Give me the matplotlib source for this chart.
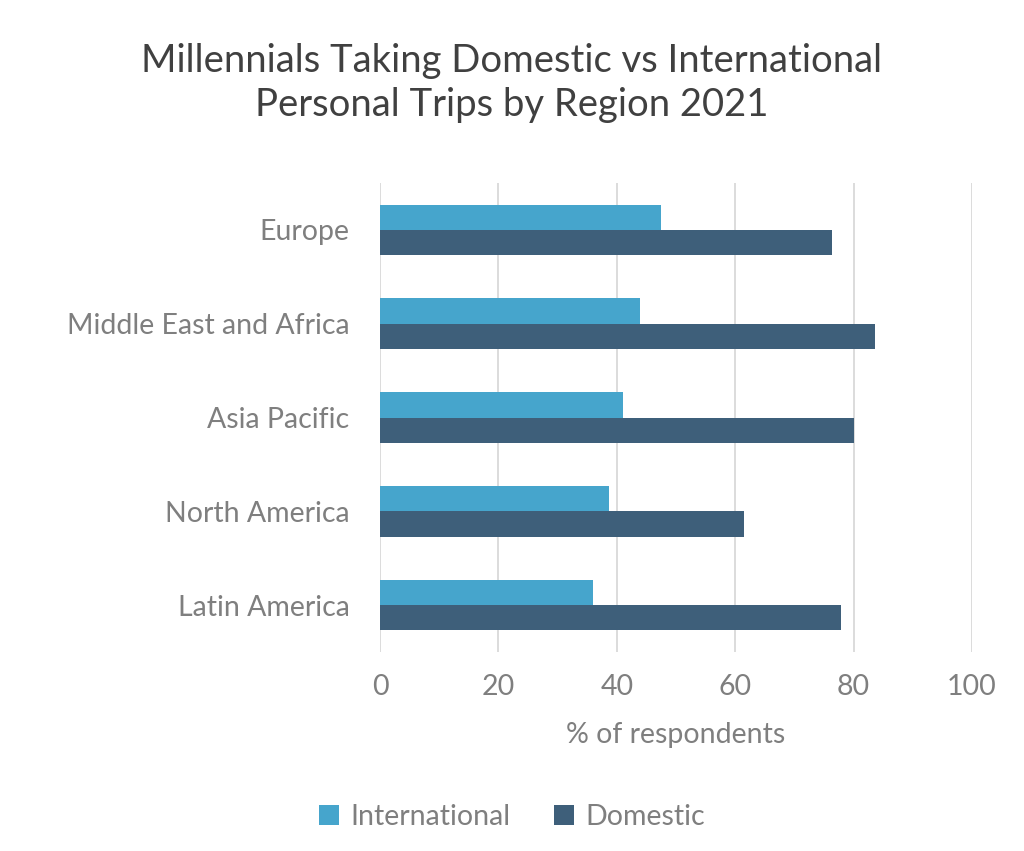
import matplotlib
matplotlib.use("Agg")
import matplotlib.pyplot as plt
import numpy as np

plt.rcParams['font.family'] = ['Lato', 'DejaVu Sans']

regions = ["Europe", "Middle East and Africa", "Asia Pacific", "North America", "Latin America"]
international = [47.5, 44.0, 41.1, 38.6, 36.0]
domestic = [76.3, 83.6, 80.0, 61.5, 77.9]
xticks = [0, 20, 40, 60, 80, 100]

fig = plt.figure(figsize=(10.24, 8.51), dpi=100)
ax = fig.add_axes([380 / 1024, 1 - 652 / 851, 592 / 1024, 469 / 851])

y = np.arange(len(regions))[::-1]
h = 0.27
ax.barh(y + h / 2, international, height=h, color="#46A5CC", label="International")
ax.barh(y - h / 2, domestic, height=h, color="#3E5F7A", label="Domestic")

ax.set_xlim(0, 100)
ax.set_ylim(-0.5, len(regions) - 0.5)
ax.set_xticks(xticks)
ax.set_yticks(y)
ax.set_yticklabels(regions)
ax.tick_params(axis="both", length=0, labelsize=20.5, colors="#7F7F7F")
ax.tick_params(axis="x", pad=16)
ax.tick_params(axis="y", pad=22)
ax.grid(axis="x", color="#D9D9D9", linewidth=1.3)
ax.set_axisbelow(True)
for s in ax.spines.values():
    s.set_visible(False)
ax.set_xlabel("% of respondents", fontsize=20.5, color="#7F7F7F", labelpad=16)

fig.suptitle("Millennials Taking Domestic vs International\nPersonal Trips by Region 2021",
             fontsize=27.5, color="#404040", y=0.95, linespacing=1.3)
fig.legend(loc="lower center", bbox_to_anchor=(0.5, -0.005), ncol=2, frameon=False,
           fontsize=20.5, labelcolor="#7F7F7F", handlelength=0.7, handleheight=0.7,
           handletextpad=0.4, columnspacing=1.5)

fig.savefig("out.png", dpi=100)
